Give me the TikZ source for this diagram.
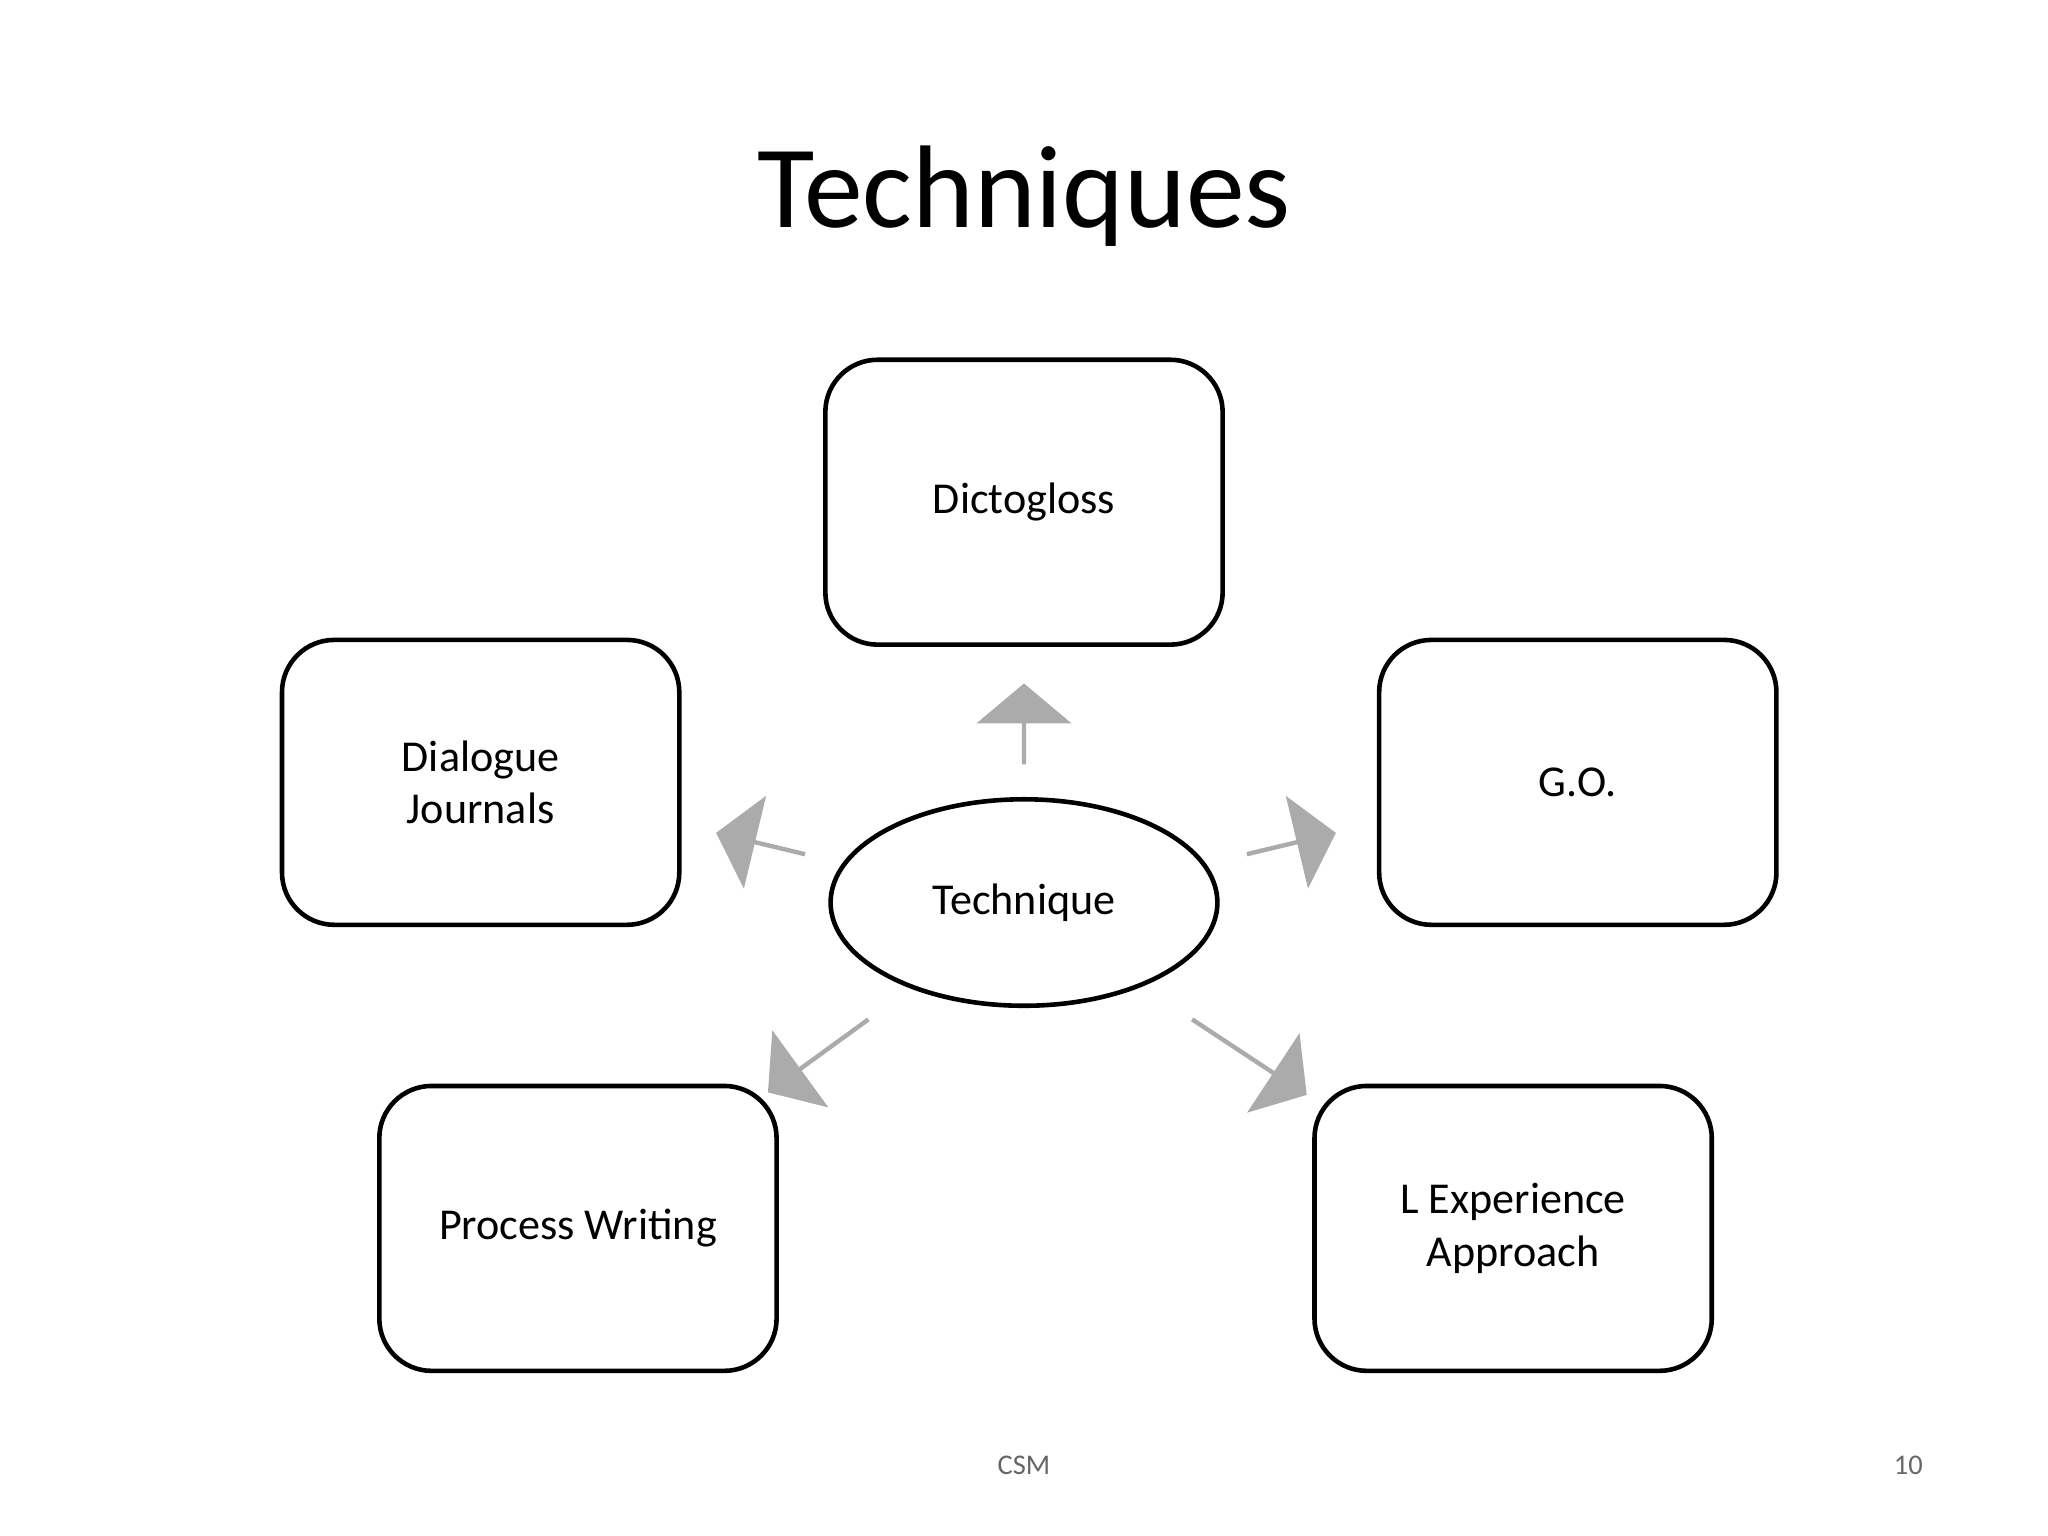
\documentclass[tikz,border=0pt]{standalone}
\usepackage{fontspec}
\setmainfont{Carlito}
\usetikzlibrary{shapes.geometric,shapes.arrows}
\begin{document}
\begin{tikzpicture}[x=0.01cm,y=-0.01cm,
  box/.style={draw,line width=1pt,rounded corners=0.4cm,minimum width=3.04cm,minimum height=2.18cm,align=center,font=\fontsize{9.6}{11.5}\selectfont},
  garr/.style={single arrow,fill=black!33,draw=none,inner sep=0pt,minimum width=0.73cm,single arrow head extend=0.145cm,single arrow tip angle=100},
  foot/.style={text=black!60,font=\fontsize{6.2}{7}\selectfont}]
\useasboundingbox (0,0) rectangle (1568,1176);
\node (title) at (784,150) {\fontsize{25.6}{30}\selectfont Techniques};
\node[box] (dicto) at (784,384.5) {Dictogloss};
\node[box] (dial) at (368,599) {Dialogue\\Journals};
\node[box] (go) at (1208,599) {G.O.};
\node[box] (proc) at (442.5,940.5) {Process Writing};
\node[box] (lexp) at (1158.5,940.5) {L Experience\\Approach};
\node[draw,line width=1pt,ellipse,minimum width=2.96cm,minimum height=1.58cm,font=\fontsize{9.6}{11.5}\selectfont] (tech) at (784,691) {Technique};
\node[garr,minimum height=0.62cm,rotate=90] (a1) at (784,555) {};
\node[garr,minimum height=0.70cm,rotate=166.5] (a2) at (583,646) {};
\node[garr,minimum height=0.70cm,rotate=13.5] (a3) at (988,646) {};
\node[garr,minimum height=0.95cm,rotate=216] (a4) at (627,808) {};
\node[garr,minimum height=1.05cm,rotate=-33.4] (a5) at (956,809) {};
\node[foot] (csm) at (784,1122) {CSM};
\node[foot] (num) at (1461,1122) {10};
\end{tikzpicture}
\end{document}
